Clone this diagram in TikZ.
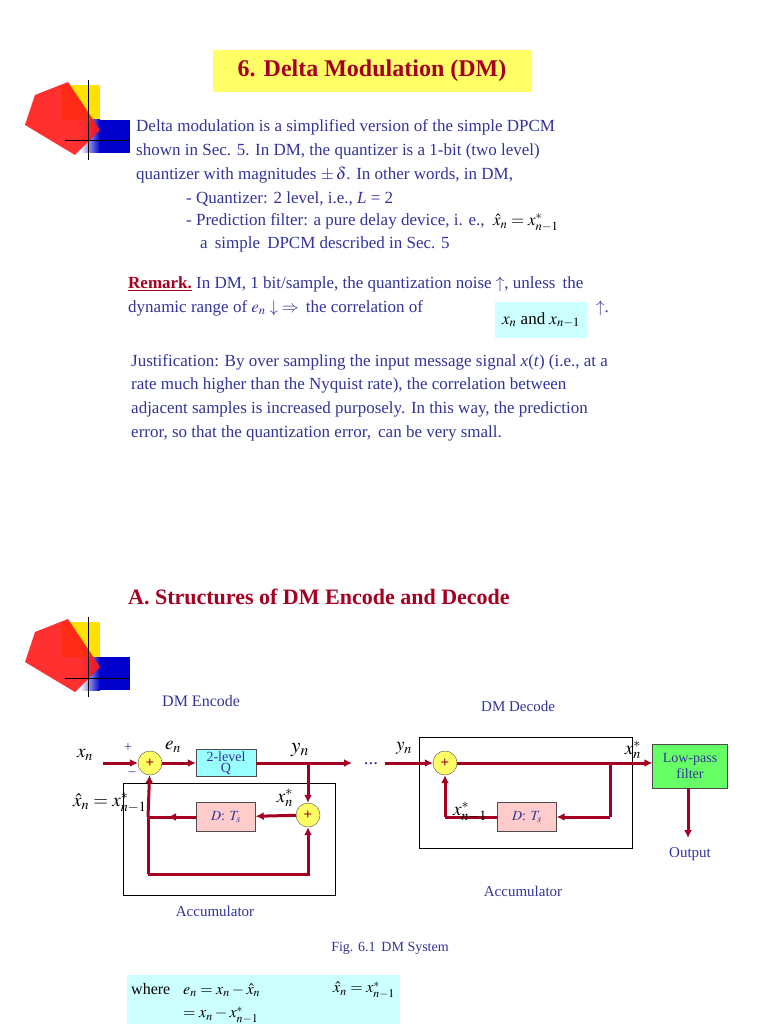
\documentclass[tikz,border=0pt]{standalone}
\usepackage{mathptmx}
\usepackage[no-math]{fontspec}
\setmainfont{Liberation Serif}
\usetikzlibrary{arrows.meta}
\definecolor{navy}{HTML}{333399}
\definecolor{dred}{HTML}{A50021}
\definecolor{cy}{HTML}{99FFFF}
\definecolor{pk}{HTML}{FFCCCC}
\definecolor{gr}{HTML}{66FF66}
\definecolor{yl}{HTML}{FFFF66}
\definecolor{ttl}{HTML}{FFFF66}
\definecolor{lbl}{HTML}{CCFFFF}
\newcommand{\mb}[1]{\textcolor{black}{#1}}
\begin{document}
\begin{tikzpicture}[x=1pt,y=-1pt,
  txt/.style={anchor=west,inner sep=0pt,text=navy,font=\fontsize{17}{20}\selectfont},
  lab/.style={inner sep=0pt,font=\fontsize{19}{20}\selectfont},
  sumc/.style={circle,draw=black!70,fill=yl,minimum size=24pt,inner sep=0pt,font=\fontsize{15}{15}\selectfont\bfseries,text=dred},
  blk/.style={draw=black!70,inner sep=0pt,font=\fontsize{14}{15}\selectfont,text=navy,align=center},
  sig/.style={draw=dred,line width=3pt,-{Latex[length=8pt,width=8pt]}},
  sgl/.style={draw=dred,line width=3pt},
  acc/.style={draw=black,line width=0.9pt}]
\useasboundingbox (0,0) rectangle (768,1024);
% logos
\foreach \yy in {85,622}{
  \begin{scope}[shift={(0,\yy)}]
  \fill[yellow!85!orange] (62,0) rectangle (100,35);
  \fill[blue!80!black] (88,35) rectangle (130,68);
  \fill[left color=white,right color=blue!80!black] (80,35) rectangle (100,68);
  \fill[red!90,opacity=0.9] (35,10) -- (68,-3) -- (100,45) -- (75,70) -- (25,40) -- cycle;
  \draw[black,line width=1pt] (88,-5) -- (88,75);
  \draw[black,line width=1pt] (65,56) -- (130,56);
  \end{scope}}
% title
\node[fill=ttl,text=dred,font=\fontsize{24}{28}\selectfont\bfseries,minimum width=319pt,minimum height=42pt,inner sep=0pt] (title) at (372,71) {6. Delta Modulation (DM)};
\node[txt] (l1) at (136,127) {Delta modulation is a simplified version of the simple DPCM};
\node[txt] (l2) at (136,151) {shown in Sec. 5. In DM, the quantizer is a 1-bit (two level)};
\node[txt] (l3) at (136,175) {quantizer with magnitudes $\pm\,\delta$. In other words, in DM,};
\node[txt] (l4) at (186,199) {- Quantizer: 2 level, i.e., \textit{L} = 2};
\node[txt] (l5) at (186,223) {- Prediction filter: a pure delay device, i. e.,\ \ \mb{$\hat{x}_n=x^*_{n-1}$}};
\node[txt] (l6) at (200,244) {a\, simple\, DPCM described in Sec. 5};
\node[txt] (r1) at (128,284) {\textcolor{dred}{\textbf{\underline{Remark.}}} In DM, 1 bit/sample, the quantization noise $\uparrow$, unless\, the};
\node[txt] (r2) at (128,308) {dynamic range of $e_n\downarrow\;\Rightarrow$\, the correlation of};
\node[fill=lbl,minimum width=92pt,minimum height=36pt,inner sep=0pt] (cbox) at (541,320) {};
\node[txt,anchor=center,text=black] (cbt) at (541,320) {$x_n$ and $x_{n-1}$};
\node[txt] (arr) at (596,308) {$\uparrow$.};
\node[txt] (j1) at (131,362) {Justification: By over sampling the input message signal \textit{x}(\textit{t}) (i.e., at a};
\node[txt] (j2) at (131,385) {rate much higher than the Nyquist rate), the correlation between};
\node[txt] (j3) at (131,409) {adjacent samples is increased purposely. In this way, the prediction};
\node[txt] (j4) at (131,433) {error, so that the quantization error,\, can be very small.};
\node[anchor=west,inner sep=0pt,text=dred,font=\fontsize{22}{26}\selectfont\bfseries] (hA) at (128,597) {A. Structures of DM Encode and Decode};
\node[txt,font=\fontsize{16}{18}\selectfont] (enc) at (162,701) {DM Encode};
\node[txt,font=\fontsize{15}{18}\selectfont] (dec) at (481,706) {DM Decode};
% encoder
\draw[acc] (123,783) rectangle (335,895);
\node[sumc] (s1) at (150,763) {+};
\node[blk,fill=cy,minimum width=60pt,minimum height=27pt] (Q) at (226,763) {2-level\\[-4pt]Q};
\node[sumc] (s2) at (308,815) {+};
\node[blk,fill=pk,minimum width=59pt,minimum height=29pt] (D1) at (226,817) {$D$: $T_s$};
\coordinate (xin) at (103,763);
\coordinate (yout) at (352,763);
\coordinate (br1) at (308,763);
\coordinate (fb1) at (148,874);
\coordinate (fb2) at (308,874);
\coordinate (dl) at (148,817);
\coordinate (dm) at (168,817);
\draw[sig] (xin) -- (s1);
\draw[sig] (s1) -- (Q);
\draw[sig] (Q) -- (yout);
\draw[sig] (br1) -- (s2);
\draw[sig] (s2) -- (D1);
\draw[sgl] (D1) -- (dl);
\draw[sig] (D1) -- (dm);
\draw[sgl] (fb1) -- (dl);
\draw[sig] (dl) -- (s1);
\draw[sig] (fb1) -- (fb2) -- (s2);
\node[lab] (xn) at (85,755) {$x_n$};
\node[lab,text=navy,font=\fontsize{14}{14}\selectfont] (plus) at (128,748) {+};
\node[lab,text=navy,font=\fontsize{14}{14}\selectfont] (minus) at (132,774) {--};
\node[lab] (en) at (173,747) {$e_n$};
\node[lab,font=\fontsize{21}{21}\selectfont] (yn) at (300,750) {$y_n$};
\node[lab] (xs) at (285,798) {$x^*_n$};
\node[lab,anchor=west] (xh) at (73,803) {$\hat{x}_n=x^*_{n-1}$};
\node[txt,anchor=center,font=\fontsize{15}{18}\selectfont] (acc1) at (215,911) {Accumulator};
\node[lab] (dots) at (371,764) {\textcolor{navy}{...}};
% decoder
\draw[acc] (419,737) rectangle (632,848);
\node[sumc] (s3) at (445,763) {+};
\node[blk,fill=pk,minimum width=59pt,minimum height=29pt] (D2) at (527,817) {$D$: $T_s$};
\node[blk,fill=gr,minimum width=75pt,minimum height=44pt,font=\fontsize{14}{16}\selectfont] (lpf) at (690,766) {Low-pass\\filter};
\coordinate (yin) at (385,763);
\coordinate (br2) at (610,763);
\coordinate (br3) at (610,817);
\coordinate (dl2) at (445,817);
\coordinate (outp) at (688,838);
\draw[sig] (yin) -- (s3);
\draw[sig] (s3) -- (lpf.west |- s3);
\draw[sgl] (br2) -- (br3);
\draw[sig] (br3) -- (D2);
\draw[sgl] (D2) -- (dl2);
\draw[sig] (dl2) -- (s3);
\draw[sig] (lpf.south -| outp) -- (outp);
\node[lab] (yn2) at (404,748) {$y_n$};
\node[lab] (xs2) at (633,750) {$x^*_n$};
\node[lab] (xs3) at (470,812) {$x^*_{n-1}$};
\node[txt,anchor=center,font=\fontsize{15}{18}\selectfont] (outl) at (690,854) {Output};
\node[txt,anchor=center,font=\fontsize{15}{18}\selectfont] (acc2) at (523,891) {Accumulator};
\node[txt,anchor=center,font=\fontsize{14}{18}\selectfont] (fig) at (390,948) {Fig. 6.1\, DM System};
% bottom box
\fill[lbl] (127,975) rectangle (400,1024);
\node[anchor=west,inner sep=0pt,font=\fontsize{16}{18}\selectfont] (wh) at (131,990) {where\;\; $e_n=x_n-\hat{x}_n$};
\node[anchor=west,inner sep=0pt,font=\fontsize{16}{18}\selectfont] (wh2) at (333,990) {$\hat{x}_n=x^*_{n-1}$};
\node[anchor=west,inner sep=0pt,font=\fontsize{16}{18}\selectfont] (wh3) at (183,1015) {$=x_n-x^*_{n-1}$};
\end{tikzpicture}
\end{document}
